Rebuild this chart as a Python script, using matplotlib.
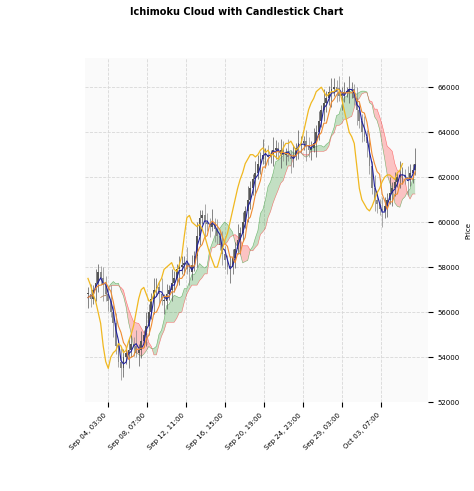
import numpy as np
import pandas as pd
import matplotlib
matplotlib.use("Agg")
import matplotlib.pyplot as plt
from datetime import datetime, timedelta

# approx 6-hourly closes
closes = [56800, 56600, 57000, 57300, 57800, 57500, 57200, 56800, 56500, 56000,
          55500, 54500, 53800, 53500, 54000, 54200, 54300, 54600, 54500, 54200,
          54300, 54700, 55000, 55400, 56000, 56600, 57000, 57100, 56800, 56500,
          56500, 56800, 57000, 57300, 57500, 57900, 58000, 58100, 58200, 57900,
          57800, 58100, 58500, 59400, 60200, 60300, 60000, 59900, 59800, 59900,
          59700, 59400, 59000, 58600, 58300, 58000, 58000, 58400, 58800, 59200,
          59500, 60000, 60500, 61000, 61500, 61900, 62200, 62600, 62800, 63000,
          63000, 62900, 63000, 63200, 63300, 63100, 63200, 63000, 63000, 62900,
          62800, 63000, 63300, 63500, 63500, 63600, 63400, 63200, 63300, 63500,
          64000, 64500, 65000, 65300, 65500, 65800, 65900, 66000, 65800, 65600,
          65700, 65800, 65800, 65900, 65900, 65500, 65000, 64500, 64000, 63800,
          63500, 62500, 61500, 61000, 60800, 60600, 60500, 60700, 61000, 61300,
          61500, 61800, 62000, 62100, 62100, 62000, 61900, 62200, 62300, 62600]
wicks = [300, 450, 200, 600, 350, 250, 500, 400, 300, 700]
start_time = datetime(2024, 9, 2, 1, 0)

n = len(closes)
opens = [closes[0]] + closes[:-1]
highs = [max(o, c) + wicks[i % len(wicks)] for i, (o, c) in enumerate(zip(opens, closes))]
lows = [min(o, c) - wicks[(i + 3) % len(wicks)] for i, (o, c) in enumerate(zip(opens, closes))]
df = pd.DataFrame({"open": opens, "high": highs, "low": lows, "close": closes})

step = 837 / (n - 1)
x = np.arange(n) * step

def mid(p):
    return (df["high"].rolling(p, min_periods=1).max() + df["low"].rolling(p, min_periods=1).min()) / 2

shift = 5
tenkan = mid(2)
kijun = mid(5)
span_a = ((tenkan + kijun) / 2).shift(shift)
span_b = mid(10).shift(shift)
chikou = df["close"].shift(-shift)

fig = plt.figure(figsize=(4.74, 4.91), dpi=100)
ax = fig.add_axes([0.179, 0.181, 0.724, 0.701])
ax.set_facecolor("#fafafa")
ax.grid(True, linestyle="--", color="#d8d8d8", linewidth=0.6)
ax.set_axisbelow(True)

a = span_a.values
b = span_b.values
ax.fill_between(x, a, b, where=a >= b, color="green", alpha=0.22, interpolate=True, linewidth=0)
ax.fill_between(x, a, b, where=a < b, color="red", alpha=0.22, interpolate=True, linewidth=0)
ax.plot(x, a, color="green", lw=0.4, alpha=0.5)
ax.plot(x, b, color="red", lw=0.4, alpha=0.5)

for i in range(n):
    col = "#555555" if closes[i] >= opens[i] else "#888888"
    ax.vlines(x[i], lows[i], highs[i], color=col, lw=0.5)
    ax.bar(x[i], abs(closes[i] - opens[i]) or 30, bottom=min(opens[i], closes[i]),
           width=step * 0.7, color=col, linewidth=0)

ax.plot(x, tenkan, color="#2020a0", lw=0.8)
ax.plot(x, kijun, color="#f08c30", lw=0.8)
ax.plot(x, chikou, color="#f0b820", lw=0.9)

ticks = [50 + 100 * k for k in range(8)]
ax.set_xticks(ticks)
ax.set_xticklabels([(start_time + timedelta(hours=t)).strftime("%b %d, %H:%M") for t in ticks],
                   rotation=45, ha="right", fontsize=5)
ax.set_xlim(-8, 870)
ax.set_ylim(52000, 67300)
ax.yaxis.tick_right()
ax.yaxis.set_label_position("right")
ax.tick_params(axis="y", labelsize=5)
ax.set_ylabel("Price", fontsize=5)
for s in ax.spines.values():
    s.set_visible(False)

fig.suptitle("Ichimoku Cloud with Candlestick Chart", fontsize=7, fontweight="bold", y=0.985)
fig.savefig("out.png", dpi=100)
